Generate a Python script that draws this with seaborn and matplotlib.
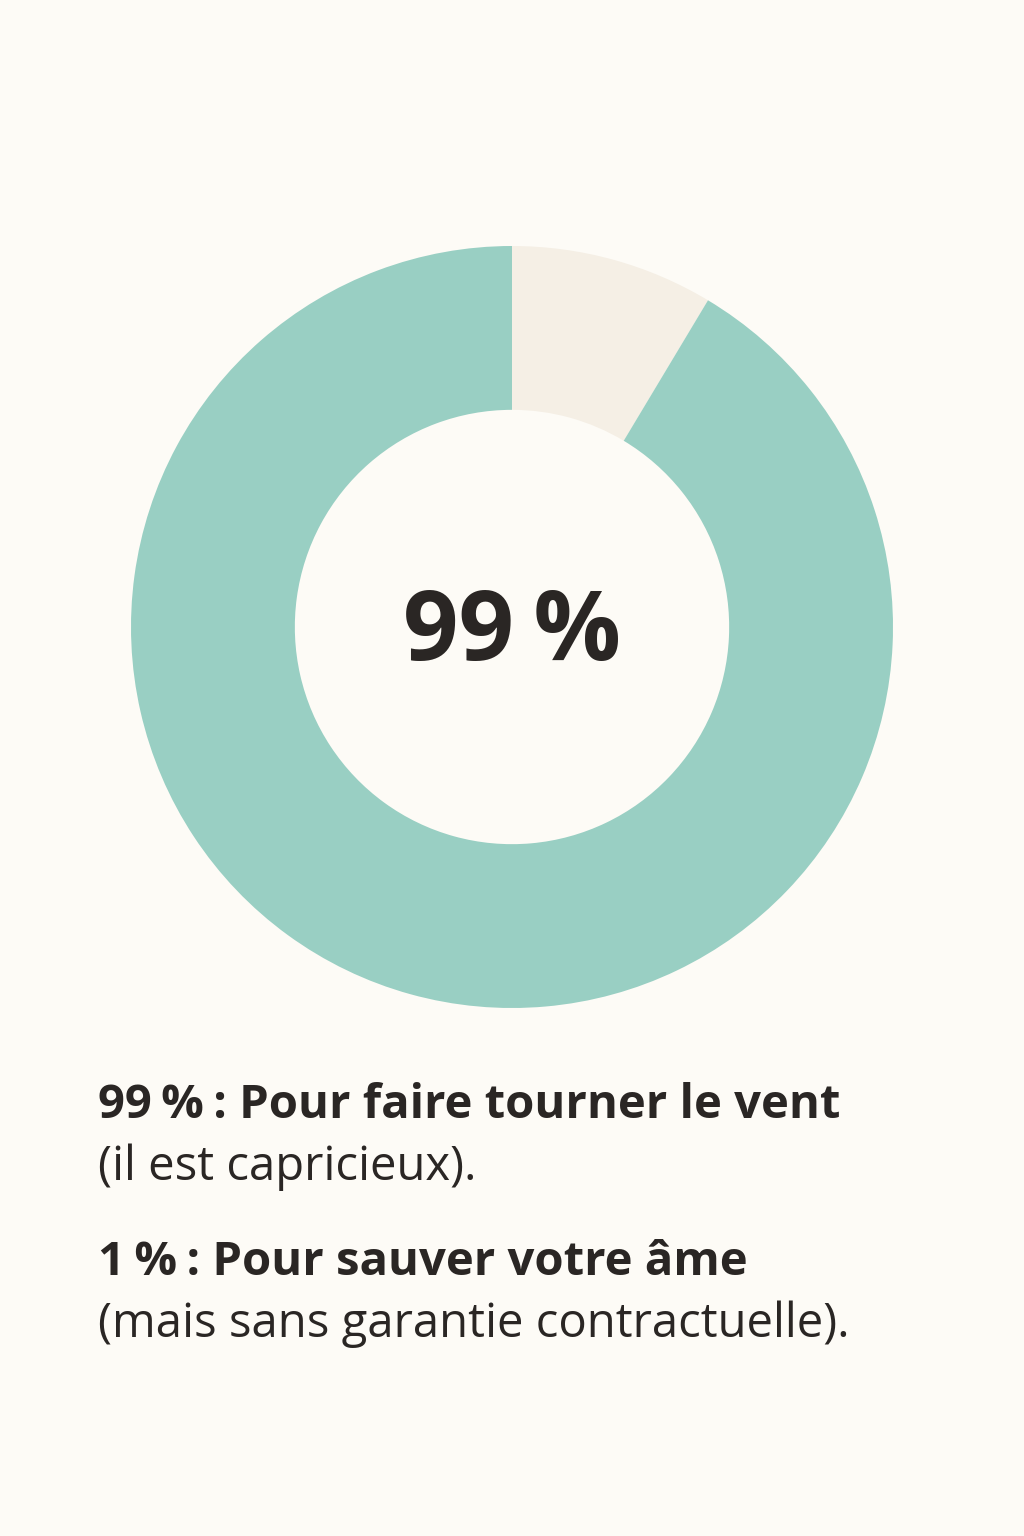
import matplotlib.pyplot as plt
import seaborn as sns

# arc shares as drawn in the picture (the slice reads ~8.6 %)
slices = ["âme", "vent"]
shares = [8.6, 91.4]
slice_colors = ["#F5EFE5", "#99CFC3"]

center_label = "99\u202f%"
bold_lines = ["99\u202f%\u202f: Pour faire tourner le vent", "1\u202f%\u202f: Pour sauver votre âme"]
plain_lines = ["(il est capricieux).", "(mais sans garantie contractuelle)."]

bg = "#FDFBF6"
ink = "#2A2624"

sns.set_theme(style="white")
plt.rcParams["font.family"] = ["Open Sans", "DejaVu Sans"]

fig = plt.figure(figsize=(10.24, 15.36), dpi=100, facecolor=bg)
ax = fig.add_axes([131 / 1024, 528 / 1536, 762 / 1024, 762 / 1536])
ax.set_facecolor(bg)
ax.pie(shares, colors=slice_colors, startangle=90, counterclock=False,
       radius=1.0, wedgeprops=dict(width=0.43, linewidth=0))
ax.set_xlim(-1, 1)
ax.set_ylim(-1, 1)
ax.set_aspect("equal")
ax.axis("off")

ax.text(0, -0.02, center_label, ha="center", va="center", fontsize=70,
        fontweight="bold", color=ink)

for i, (b, p) in enumerate(zip(bold_lines, plain_lines)):
    y0 = [1118, 1275][i]
    fig.text(98 / 1024, 1 - y0 / 1536, b, ha="left", va="baseline",
             fontsize=34, fontweight="bold", color=ink)
    fig.text(98 / 1024, 1 - (y0 + 62) / 1536, p, ha="left", va="baseline",
             fontsize=34, color=ink)

fig.savefig("out.png", dpi=100, facecolor=bg)
